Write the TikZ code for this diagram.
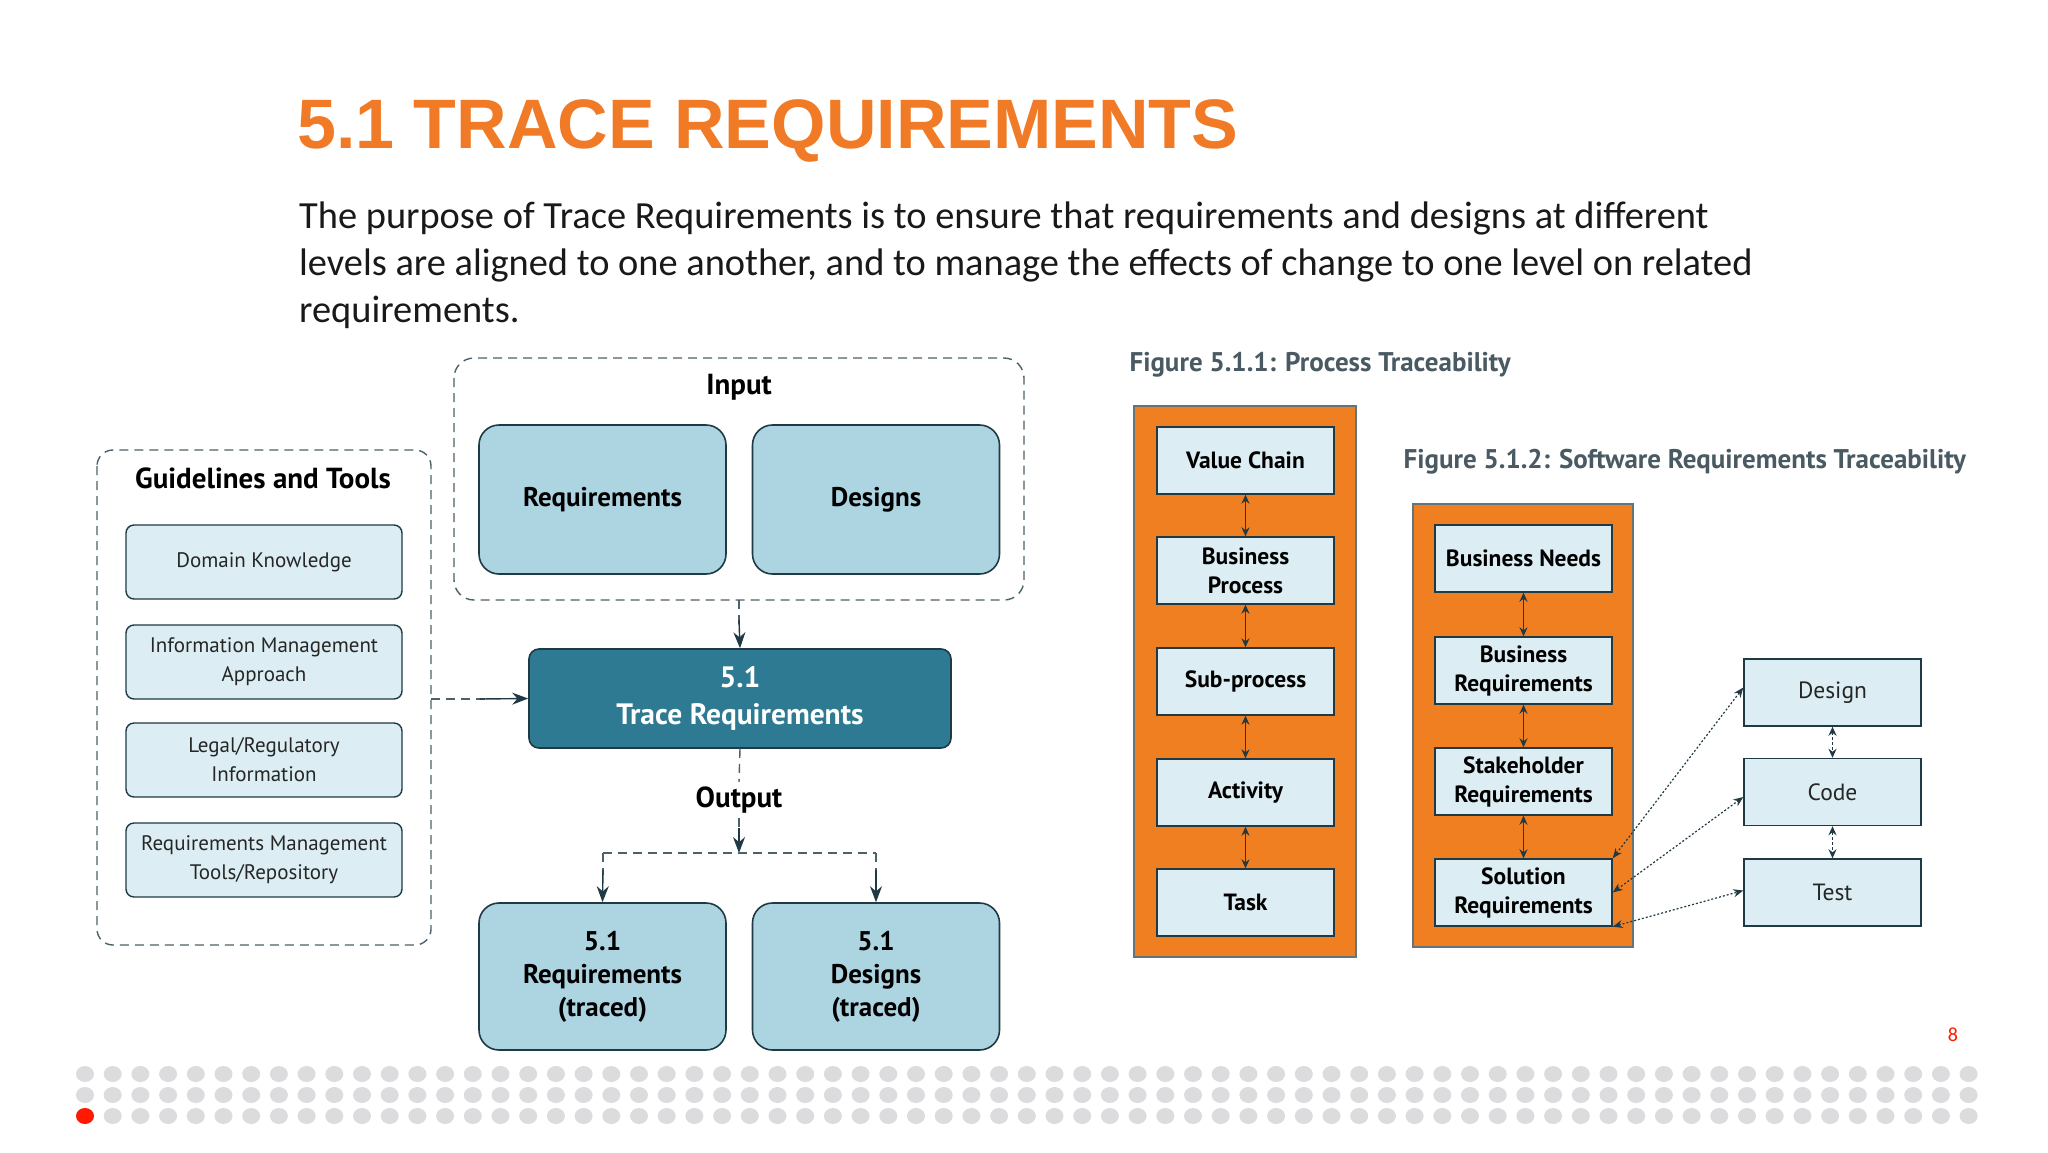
\documentclass[tikz,border=0pt]{standalone}
\usepackage{fontspec}
\setmainfont{Carlito}
\newfontfamily\dfont{PT Sans}
\newfontfamily\tfont{Liberation Sans}
\usetikzlibrary{arrows.meta}
\definecolor{org}{HTML}{F07F22}
\definecolor{ttl}{HTML}{F07A25}
\definecolor{lb}{HTML}{ADD5E1}
\definecolor{vlb}{HTML}{DCEEF3}
\definecolor{bd}{HTML}{1F3A44}
\definecolor{teal}{HTML}{2E7A93}
\definecolor{cap}{HTML}{4A5A63}
\definecolor{dotg}{HTML}{DCDCDE}
\tikzset{
 bigbox/.style={draw=bd,line width=1.6pt,fill=lb,rounded corners=20pt,align=center,font=\dfont\bfseries\fontsize{27}{33}\selectfont,text=black},
 gbox/.style={draw=bd,line width=1.4pt,fill=vlb,rounded corners=8pt,align=center,minimum width=276,minimum height=74,font=\dfont\fontsize{21}{29}\selectfont,text=black!85},
 fbox/.style={draw=bd,line width=1.4pt,fill=vlb,align=center,font=\dfont\bfseries\fontsize{23.5}{29}\selectfont,text=black,inner sep=1pt},
 rbox/.style={draw=bd,line width=1.4pt,fill=vlb,align=center,minimum width=177,minimum height=67,font=\dfont\fontsize{23.5}{28}\selectfont,text=black!85},
 dsh/.style={draw=bd!80,line width=1.4pt,dash pattern=on 9pt off 6pt},
 arr/.style={-{Stealth[length=16pt,width=12pt]},bd,line width=1.4pt},
 darr/.style={{Stealth[length=9pt,width=8pt]}-{Stealth[length=9pt,width=8pt]},bd,line width=1.4pt},
 dotarr/.style={{Stealth[length=10pt,width=8pt]}-{Stealth[length=10pt,width=8pt]},bd,line width=1.2pt,dash pattern=on 2pt off 2pt},
 lbl/.style={font=\dfont\bfseries\fontsize{29}{34}\selectfont,text=black},
 capt/.style={font=\dfont\bfseries\fontsize{27}{32}\selectfont,text=cap,anchor=west}
}
\begin{document}
\begin{tikzpicture}[x=1pt,y=-1pt]
\useasboundingbox[fill=white] (0,0) rectangle (2048,1152);
% title
\node[anchor=base west,inner sep=0,text=ttl,font=\tfont\bfseries\fontsize{70}{72}\selectfont] (title) at (297,148) {5.1 TRACE REQUIREMENTS};
\node[anchor=base west,inner sep=0,align=left,font=\fontsize{38.4}{47}\selectfont,text=black!90] (para) at (299,322) {The purpose of Trace Requirements is to ensure that requirements and designs at different\\levels are aligned to one another, and to manage the effects of change to one level on related\\requirements.};
% input box
\draw[dsh,rounded corners=20pt] (454,358) rectangle (1024,600);
\node[lbl] (inlbl) at (739,387) {Input};
\node[bigbox,minimum width=247,minimum height=149] (req) at (602.5,499.5) {Requirements};
\node[bigbox,minimum width=247,minimum height=149] (des) at (876,499.5) {Designs};
% guidelines
\draw[dsh,rounded corners=16pt] (97,450) rectangle (431,945);
\node[lbl] (glbl) at (263,478) {Guidelines and Tools};
\node[gbox] (g1) at (264,562) {Domain Knowledge};
\node[gbox] (g2) at (264,662) {Information Management\\Approach};
\node[gbox] (g3) at (264,760) {Legal/Regulatory\\Information};
\node[gbox] (g4) at (264,860) {Requirements Management\\Tools/Repository};
% trace
\node[draw=bd,line width=1.6pt,fill=teal,rounded corners=10pt,minimum width=422,minimum height=99,align=center,text=white,font=\dfont\bfseries\fontsize{29.5}{37}\selectfont] (tr) at (740,698.5) {5.1\\Trace Requirements};
\coordinate (gr) at (431,699);
\draw[dsh] (gr) -- (485,699);
\draw[arr] (480,699) -- (tr.west);
\coordinate (inb) at (739,600);
\draw[dsh] (inb) -- (739,625);
\draw[arr] (739,620) -- (tr.north);
\node[lbl] (outlbl) at (739,800) {Output};
\coordinate (o1) at (739,853);
\draw[dsh] (tr.south) -- (739,782);
\draw[dsh] (739,818) -- (739,830);
\draw[arr] (739,828) -- (o1);
\coordinate (ol) at (603,853); \coordinate (or) at (876,853);
\draw[dsh] (ol) -- (or);
\node[bigbox,minimum width=247,minimum height=147] (oreq) at (602.5,976.5) {5.1\\Requirements\\(traced)};
\node[bigbox,minimum width=247,minimum height=147] (odes) at (876,976.5) {5.1\\Designs\\(traced)};
\draw[dsh] (ol) -- (603,875); \draw[arr] (603,870) -- (oreq.north);
\draw[dsh] (or) -- (876,875); \draw[arr] (876,870) -- (odes.north);
% figure 5.1.1
\node[capt] (c1) at (1126,365) {Figure 5.1.1: Process Traceability};
\draw[fill=org,draw=bd!70,line width=1.4pt] (1134,406) rectangle (1356,957);
\foreach \n/\y/\t in {a/460.5/Value Chain,b/570.5/Business\\Process,c/681.5/Sub-process,d/792.5/Activity,e/902.5/Task}
  \node[fbox,minimum width=177,minimum height=67] (f\n) at (1245.5,\y) {\t};
\draw[darr] (fa) -- (fb); \draw[darr] (fb) -- (fc); \draw[darr] (fc) -- (fd); \draw[darr] (fd) -- (fe);
% figure 5.1.2
\node[capt] (c2) at (1400,462) {Figure 5.1.2: Software Requirements Traceability};
\draw[fill=org,draw=bd!70,line width=1.4pt] (1413,504) rectangle (1633,947);
\foreach \n/\y/\t in {a/558.5/Business Needs,b/670.5/Business\\Requirements,c/781.5/Stakeholder\\Requirements,d/892.5/Solution\\Requirements}
  \node[fbox,minimum width=177,minimum height=67] (s\n) at (1523.5,\y) {\t};
\draw[darr] (sa) -- (sb); \draw[darr] (sb) -- (sc); \draw[darr] (sc) -- (sd);
\node[rbox] (rd) at (1832.5,692.5) {Design};
\node[rbox] (rc) at (1832.5,792) {Code};
\node[rbox] (rt) at (1832.5,892.5) {Test};
\draw[darr,dash pattern=on 3pt off 2pt] (rd) -- (rc);
\draw[darr,dash pattern=on 3pt off 2pt] (rc) -- (rt);
\draw[dotarr] (sd.north east) -- ([yshift=5pt]rd.west);
\draw[dotarr] ([yshift=0pt]sd.east) -- ([yshift=-5pt]rc.west);
\draw[dotarr] (sd.south east) -- ([yshift=2pt]rt.west);
% page number
\node[text=red!80!orange,font=\fontsize{20}{24}\selectfont] (pg) at (1953,1035) {8};
% dots
\foreach \i in {0,...,68}{
  \foreach \r in {1074,1095,1116}{
    \fill[dotg] (85+27.7*\i,\r) ellipse (9pt and 8pt);
  }
}
\fill[red!80!orange] (85,1116) ellipse (9pt and 8pt);
\end{tikzpicture}
\end{document}
